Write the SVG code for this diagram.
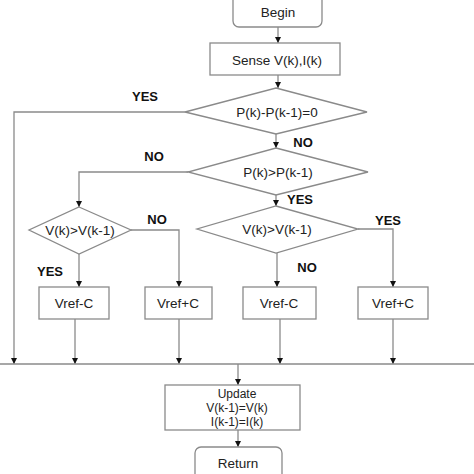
<svg xmlns="http://www.w3.org/2000/svg" width="474" height="474" viewBox="0 0 474 474">
<style>
.shape{fill:#fff;stroke:#8a8a8a;stroke-width:1.3}
.t{font-family:"Liberation Sans",Arial,sans-serif;font-size:13.5px;fill:#222;text-anchor:middle;dominant-baseline:central}
.u{font-size:12px}
.lbl{font-family:"Liberation Sans",Arial,sans-serif;font-size:13px;font-weight:bold;fill:#111;text-anchor:middle;dominant-baseline:central}
.c{fill:none;stroke:#8a8a8a;stroke-width:1.3}
.a{marker-end:url(#ah)}
</style>
<defs>
<marker id="ah" markerWidth="7" markerHeight="7" refX="6" refY="3" orient="auto" markerUnits="userSpaceOnUse">
<path d="M0,0 L6,3 L0,6 z" fill="#111"/>
</marker>
</defs>
<rect width="474" height="474" fill="#fff"/>
<g id="connectors">
<path class="c a" d="M278,27 V43"/>
<path class="c a" d="M278,75 V88"/>
<path class="c a" d="M185,112 H14 V364"/>
<path class="c a" d="M276,134 V148"/>
<path class="c a" d="M188,172 H79 V207"/>
<path class="c a" d="M276,195 V206"/>
<path class="c a" d="M131,230 H179 V287"/>
<path class="c a" d="M79,254 V287"/>
<path class="c a" d="M358,229 H393 V287"/>
<path class="c a" d="M277,253 V287"/>
<path class="c a" d="M75,319 V364"/>
<path class="c a" d="M179,319 V364"/>
<path class="c a" d="M280,319 V364"/>
<path class="c a" d="M393,319 V364"/>
<path class="c" d="M0,364 H474"/>
<path class="c a" d="M238,364 V385"/>
<path class="c a" d="M238,430 V447"/>
</g>
<g id="begin"><rect class="shape" x="233" y="-12" width="89" height="39" rx="6"/><text class="t" x="278" y="12">Begin</text></g>
<g id="sense"><rect class="shape" x="210" y="43" width="130" height="32"/><text class="t" x="277" y="60">Sense V(k),I(k)</text></g>
<g id="d1"><polygon class="shape" points="276,88 367,112 276,134 185,112"/><text class="t" x="277" y="112">P(k)-P(k-1)=0</text></g>
<g id="d2"><polygon class="shape" points="276,148 368,172 276,195 188,172"/><text class="t" x="278" y="172">P(k)&gt;P(k-1)</text></g>
<g id="d3"><polygon class="shape" points="79,207 131,230 79,254 29,230"/><text class="t" x="80" y="230">V(k)&gt;V(k-1)</text></g>
<g id="d4"><polygon class="shape" points="276,206 358,229 276,253 197,229"/><text class="t" x="277" y="229">V(k)&gt;V(k-1)</text></g>
<g id="b1"><rect class="shape" x="39" y="287" width="70" height="32"/><text class="t" x="74" y="303">Vref-C</text></g>
<g id="b2"><rect class="shape" x="145" y="287" width="67" height="32"/><text class="t" x="178" y="303">Vref+C</text></g>
<g id="b3"><rect class="shape" x="243" y="287" width="73" height="32"/><text class="t" x="279" y="303">Vref-C</text></g>
<g id="b4"><rect class="shape" x="358" y="287" width="70" height="32"/><text class="t" x="393" y="303">Vref+C</text></g>
<g id="update"><rect class="shape" x="165" y="385" width="135" height="45"/><text class="t u" x="237" y="394">Update</text><text class="t u" x="237" y="408">V(k-1)=V(k)</text><text class="t u" x="237" y="422">I(k-1)=I(k)</text></g>
<g id="return"><rect class="shape" x="195" y="447" width="87" height="40" rx="6"/><text class="t" x="238" y="463">Return</text></g>
<g id="labels">
<text class="lbl" x="145" y="96">YES</text>
<text class="lbl" x="303" y="142">NO</text>
<text class="lbl" x="154" y="156">NO</text>
<text class="lbl" x="300" y="199">YES</text>
<text class="lbl" x="157" y="219">NO</text>
<text class="lbl" x="388" y="220">YES</text>
<text class="lbl" x="50" y="271">YES</text>
<text class="lbl" x="307" y="267">NO</text>
</g>
</svg>
